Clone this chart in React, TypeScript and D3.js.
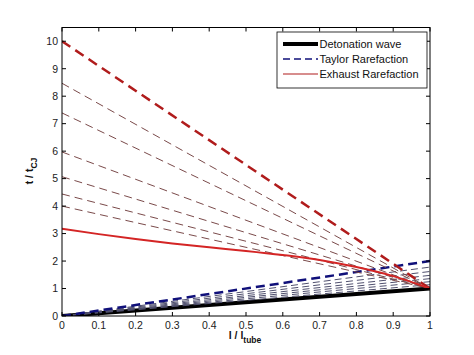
import React from "react";
import * as d3 from "d3";

// ---- data ----
const xTicks = [0, 0.1, 0.2, 0.3, 0.4, 0.5, 0.6, 0.7, 0.8, 0.9, 1];
const xTickLabels = ["0", "0.1", "0.2", "0.3", "0.4", "0.5", "0.6", "0.7", "0.8", "0.9", "1"];
const yTicks = [0, 1, 2, 3, 4, 5, 6, 7, 8, 9, 10];

// Detonation wave (l/ltube, t/tCJ)
const detonationX = [0, 1];
const detonationT = [0, 1];

// Taylor rarefaction characteristics: from origin to (1, end)
const taylorEnd = [2.0, 1.78, 1.62, 1.48, 1.36, 1.25, 1.14];

// Exhaust rarefaction characteristics: from (0, start) to (1, 1)
const exhaustStart = [10, 8.47, 7.39, 5.97, 5.07, 4.44, 4.0];
const exhaustEnd = 1;

// Exhaust rarefaction (solid curve)
const exhaustSolidX = [0, 0.1, 0.2, 0.3, 0.4, 0.5, 0.6, 0.7, 0.8, 0.9, 1.0];
const exhaustSolidT = [3.18, 2.98, 2.8, 2.64, 2.5, 2.37, 2.22, 2.04, 1.78, 1.45, 1.0];

const legendLabels = ["Detonation wave", "Taylor Rarefaction", "Exhaust Rarefaction"];

const W = 474;
const H = 355;
const L = 62, R = 430, T = 27.5, B = 316;

export default function App() {
  const x = d3.scaleLinear().domain([0, 1]).range([L, R]);
  const y = d3.scaleLinear().domain([0, 10.5]).range([B, T]);
  const line = d3
    .line<[number, number]>()
    .x((d) => x(d[0]))
    .y((d) => y(d[1]));
  const curve = d3
    .line<[number, number]>()
    .x((d) => x(d[0]))
    .y((d) => y(d[1]))
    .curve(d3.curveMonotoneX);

  const font = "'Liberation Sans', Arial, sans-serif";
  const tickLen = 4;

  return (
    <div style={{ position: "absolute", left: 0, top: 0 }}>
      <svg width={W} height={H} style={{ display: "block", background: "#fff" }}>
        <rect x={0} y={0} width={W} height={H} fill="#fff" />
        <defs>
          <clipPath id="plot">
            <rect x={L} y={T} width={R - L} height={B - T} />
          </clipPath>
        </defs>
        <g clipPath="url(#plot)">
          {/* detonation wave */}
          <path
            d={line(detonationX.map((v, i) => [v, detonationT[i]]) as [number, number][]) || ""}
            stroke="#000"
            strokeWidth={4}
            fill="none"
          />
          {/* Taylor rarefaction */}
          {taylorEnd
            .slice()
            .reverse()
            .map((e, ri) => {
              const i = taylorEnd.length - 1 - ri;
              const thick = i === 0;
              return (
                <path
                  key={"t" + i}
                  d={line([[0, 0], [1, e]]) || ""}
                  stroke={thick ? "#10107a" : "#50506e"}
                  strokeWidth={thick ? 2.5 : 1}
                  strokeDasharray={thick ? "9,5" : "7,4"}
                  fill="none"
                />
              );
            })}
          {/* exhaust rarefaction dashed */}
          {exhaustStart.map((s, i) => {
            const thick = i === 0;
            return (
              <path
                key={"e" + i}
                d={line([[0, s], [1, exhaustEnd]]) || ""}
                stroke={thick ? "#b01c1c" : "#7a4a4a"}
                strokeWidth={thick ? 2.5 : 1}
                strokeDasharray={thick ? "10,6" : "8,5"}
                fill="none"
              />
            );
          })}
          {/* exhaust rarefaction solid */}
          <path
            d={curve(exhaustSolidX.map((v, i) => [v, exhaustSolidT[i]]) as [number, number][]) || ""}
            stroke="#d42525"
            strokeWidth={2}
            fill="none"
          />
        </g>

        {/* axes box */}
        <rect x={L} y={T} width={R - L} height={B - T} fill="none" stroke="#000" strokeWidth={1} />
        {xTicks.map((t, i) => (
          <g key={"xt" + i}>
            <line x1={x(t)} x2={x(t)} y1={B} y2={B - tickLen} stroke="#000" />
            <line x1={x(t)} x2={x(t)} y1={T} y2={T + tickLen} stroke="#000" />
            <text
              x={x(t)}
              y={329}
              textAnchor="middle"
              fontFamily={font}
              fontSize={10.5}
              fill="#222"
            >
              {xTickLabels[i]}
            </text>
          </g>
        ))}
        {yTicks.map((t, i) => (
          <g key={"yt" + i}>
            <line x1={L} x2={L + tickLen} y1={y(t)} y2={y(t)} stroke="#000" />
            <line x1={R} x2={R - tickLen} y1={y(t)} y2={y(t)} stroke="#000" />
            <text
              x={58}
              y={y(t) + 3.8}
              textAnchor="end"
              fontFamily={font}
              fontSize={10.5}
              fill="#222"
            >
              {String(t)}
            </text>
          </g>
        ))}

        {/* x label */}
        <text x={245} y={339} textAnchor="middle" fontFamily={font} fontSize={10.5} fontWeight="bold" fill="#111">
          l / l
          <tspan fontSize={8.5} dy={4}>tube</tspan>
        </text>
        {/* y label */}
        <text
          transform="translate(33,171) rotate(-90)"
          textAnchor="middle"
          fontFamily={font}
          fontSize={10.5}
          fontWeight="bold"
          fill="#111"
        >
          t / t
          <tspan fontSize={8.5} dy={4}>CJ</tspan>
        </text>

        {/* legend */}
        <rect x={277} y={32} width={150} height={56} fill="#fff" stroke="#000" strokeWidth={0.8} />
        <line x1={283} x2={318} y1={44} y2={44} stroke="#000" strokeWidth={4} />
        <line x1={283} x2={318} y1={59} y2={59} stroke="#10107a" strokeWidth={1.5} strokeDasharray="7,4" />
        <line x1={283} x2={318} y1={74} y2={74} stroke="#b01c1c" strokeWidth={1.2} />
        {legendLabels.map((lab, i) => (
          <text
            key={"lg" + i}
            x={319.5}
            y={44 + i * 15 + 4}
            fontFamily={font}
            fontSize={11}
            fill="#111"
          >
            {lab}
          </text>
        ))}
      </svg>
    </div>
  );
}
